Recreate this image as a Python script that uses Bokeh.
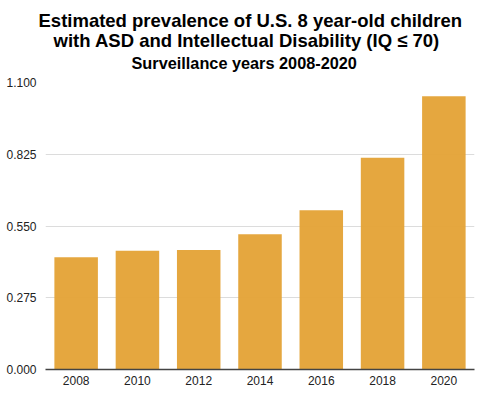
from bokeh.plotting import figure
from bokeh.models import Title, FixedTicker, NumeralTickFormatter, ColumnDataSource
from bokeh.embed import file_html
from bokeh.resources import INLINE

years = ["2008", "2010", "2012", "2014", "2016", "2018", "2020"]
prevalence = [0.430, 0.455, 0.458, 0.518, 0.610, 0.812, 1.047]
y_ticks = [0.0, 0.275, 0.55, 0.825, 1.1]

title_line1 = "Estimated prevalence of U.S. 8 year-old children"
title_line2 = "with ASD and Intellectual Disability (IQ \u2264 70)"
subtitle = "Surveillance years 2008-2020"

FONT = "Liberation Sans"

src = ColumnDataSource(dict(year=years, value=prevalence))

p = figure(x_range=years, y_range=(0, 1.1), width=484, height=387,
           output_backend="svg", toolbar_location=None,
           min_border_left=45, min_border_right=10, min_border_bottom=18,
           min_border_top=0, outline_line_color=None)

p.vbar(x="year", top="value", width=0.71, source=src,
       fill_color="#E4A235", fill_alpha=0.95, line_color=None)

for txt, size, so, off in [(subtitle, "16.3px", 22, 86),
                           (title_line2, "18.5px", -20, 8),
                           (title_line1, "18.5px", 14, -7)]:
    p.add_layout(Title(text=txt, align="left", text_font=FONT,
                       text_font_size=size, text_font_style="bold",
                       text_color="#000000", standoff=so, offset=off), "above")

p.xgrid.grid_line_color = None
p.ygrid.grid_line_color = "#DCDCDC"
p.ygrid.grid_line_width = 1

p.yaxis.ticker = FixedTicker(ticks=y_ticks)
p.yaxis.formatter = NumeralTickFormatter(format="0.000")
p.yaxis.axis_line_color = None
p.yaxis.major_tick_line_color = None
p.yaxis.minor_tick_line_color = None
p.yaxis.major_tick_out = 0
p.yaxis.major_label_standoff = 9

p.xaxis.axis_line_color = "#444444"
p.xaxis.axis_line_width = 1.5
p.xaxis.major_tick_line_color = None
p.xaxis.major_tick_out = 0
p.xaxis.major_label_standoff = 6
p.xaxis.major_label_text_line_height = 1.0

for ax in (p.xaxis, p.yaxis):
    ax.major_label_text_font = FONT
    ax.major_label_text_font_size = "12px"
    ax.major_label_text_color = "#222222"

open("out.html", "w").write(file_html(p, INLINE))
